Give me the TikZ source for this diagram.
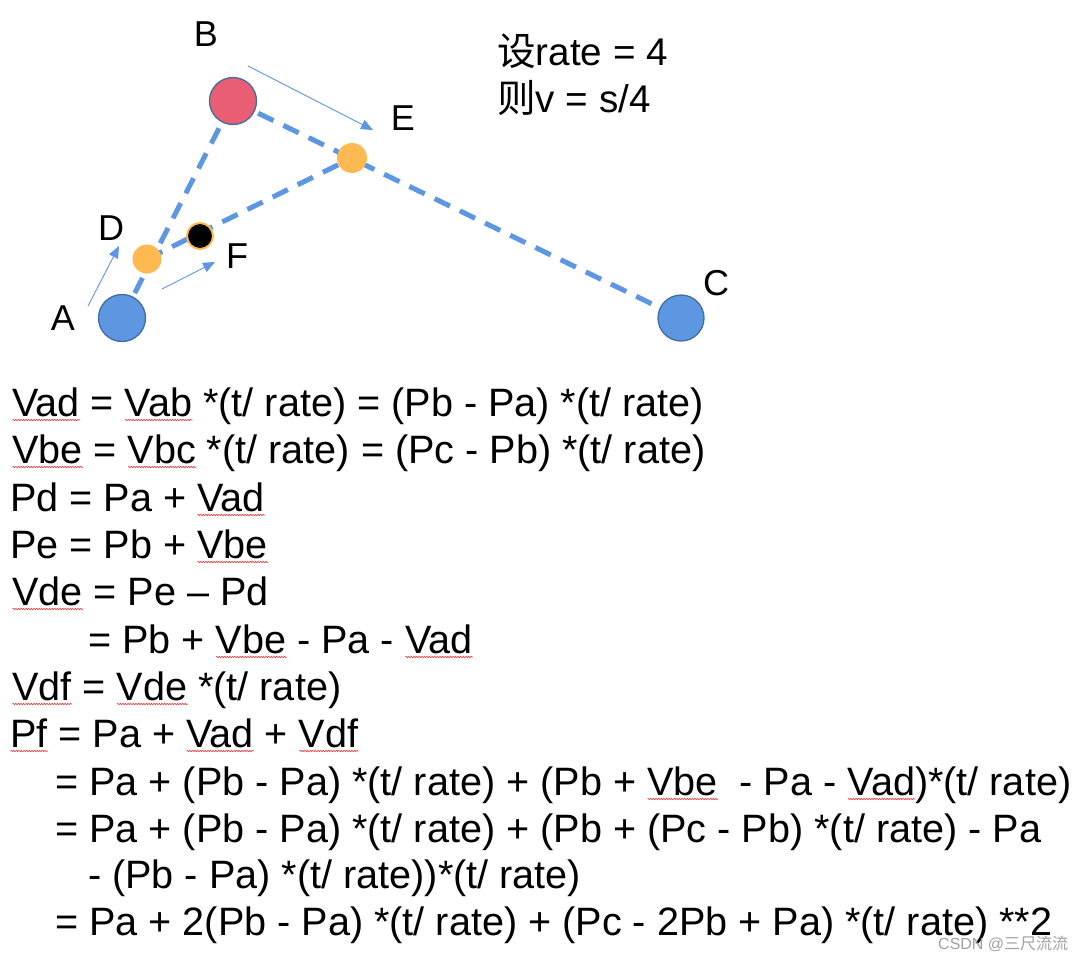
\documentclass[tikz,border=0pt]{standalone}
\usepackage{fontspec}
\setmainfont{Liberation Sans}
\newfontfamily\cjk{Noto Sans CJK SC}
\usetikzlibrary{arrows.meta,decorations.pathmorphing}
\definecolor{ptblue}{RGB}{93,151,226}
\definecolor{ptedge}{RGB}{65,110,160}
\definecolor{ptred}{RGB}{234,94,116}
\definecolor{ptorange}{RGB}{255,185,82}
\definecolor{lnblue}{RGB}{93,150,226}
\definecolor{sqred}{RGB}{235,60,60}
\definecolor{wmgray}{RGB}{150,150,150}
\newlength\sqw
\newcommand\sqg[1]{\settowidth\sqw{#1}\rlap{\tikz[baseline=0pt,x=1pt,y=1pt]{\path (0,0);\draw[sqred,line width=0.6pt,line join=round,decorate,decoration={zigzag,segment length=2.6pt,amplitude=0.8pt}] (0,-4) -- (\sqw,-4);}}#1}
\begin{document}
\begin{tikzpicture}[x=1pt,y=-1pt,
  bigpt/.style={circle,inner sep=0pt,minimum size=47pt,fill=ptblue,draw=ptedge,line width=1.3pt},
  smallpt/.style={circle,inner sep=0pt,minimum size=30pt,fill=ptorange},
  lbl/.style={inner sep=0pt,font=\fontsize{36}{40}\selectfont},
  dashline/.style={draw=lnblue,line width=5pt,dash pattern=on 17pt off 11pt},
  motion/.style={draw=lnblue,line width=0.9pt,-{Triangle[length=12pt,width=10pt]}},
  eq/.style={inner sep=0pt,anchor=base west,font=\fontsize{39.6}{47}\selectfont},
  note/.style={inner sep=0pt,anchor=base west,font=\fontsize{38.6}{46}\selectfont}]
\useasboundingbox (0,0) rectangle (1090,961);

% coordinates of points
\coordinate (pA) at (122,318);
\coordinate (pB) at (233,101);
\coordinate (pC) at (681,318);
\coordinate (pD) at (147,259);
\coordinate (pE) at (352,158);
\coordinate (pF) at (200,236);

% dashed paths
\draw[dashline] (pA) -- (pB);
\draw[dashline] (pB) -- (pC);
\draw[dashline] (pD) -- (pE);

% points
\node[bigpt] (A) at (pA) {};
\node[bigpt,fill=ptred] (B) at (pB) {};
\node[bigpt,minimum size=46pt] (C) at (pC) {};
\node[smallpt,minimum size=29pt] (D) at (pD) {};
\node[smallpt] (E) at (pE) {};
\node[circle,inner sep=0pt,minimum size=26pt,fill=black,draw=ptorange,line width=2pt] (F) at (pF) {};

% labels
\node[lbl] (lA) at (63,318) {A};
\node[lbl] (lB) at (206,34) {B};
\node[lbl] (lC) at (716,283) {C};
\node[lbl] (lD) at (111,228) {D};
\node[lbl] (lE) at (403,118) {E};
\node[lbl] (lF) at (237,256) {F};

% motion arrows
\coordinate (a1s) at (88,306);
\coordinate (a1e) at (119,246);
\coordinate (a2s) at (162,289);
\coordinate (a2e) at (215,262);
\coordinate (a3s) at (248,66);
\coordinate (a3e) at (373,130);
\draw[motion] (a1s) -- (a1e);
\draw[motion] (a2s) -- (a2e);
\draw[motion] (a3s) -- (a3e);

% note
\node[note] (n1) at (497,65) {{\cjk 设}rate = 4};
\node[note] (n2) at (497,112) {{\cjk 则}v = s/4};

% equations
\node[eq] (l1) at (12,416) {\sqg{Vad} = \sqg{Vab} *(t/ rate) = (Pb - Pa) *(t/ rate)};
\node[eq] (l2) at (12,463) {\sqg{Vbe} = \sqg{Vbc} *(t/ rate) = (Pc - Pb) *(t/ rate)};
\node[eq] (l3) at (10,511) {Pd = Pa + \sqg{Vad}};
\node[eq] (l4) at (10,558) {Pe = Pb + \sqg{Vbe}};
\node[eq] (l5) at (12,605) {\sqg{Vde} = Pe – Pd};
\node[eq] (l6) at (88,653) {= Pb + \sqg{Vbe} - Pa - \sqg{Vad}};
\node[eq] (l7) at (12,700) {\sqg{Vdf} = \sqg{Vde} *(t/ rate)};
\node[eq] (l8) at (10,747) {\sqg{Pf} = Pa + \sqg{Vad} + \sqg{Vdf}};
\node[eq] (l9) at (55,795) {= Pa + (Pb - Pa) *(t/ rate) + (Pb + \sqg{Vbe}\ \ - Pa - \sqg{Vad})*(t/ rate)};
\node[eq] (l10) at (55,842) {= Pa + (Pb - Pa) *(t/ rate) + (Pb + (Pc - Pb) *(t/ rate) - Pa};
\node[eq] (l11) at (88,888) {- (Pb - Pa) *(t/ rate))*(t/ rate)};
\node[eq] (l12) at (55,935) {= Pa + 2(Pb - Pa) *(t/ rate) + (Pc - 2Pb + Pa) *(t/ rate) **2};

% watermark
\node[inner sep=0pt,anchor=base west,font=\fontsize{16}{18}\selectfont,text=wmgray,text opacity=0.9] (wm) at (938,949) {CSDN @{\cjk 三尺流流}};
\end{tikzpicture}
\end{document}
